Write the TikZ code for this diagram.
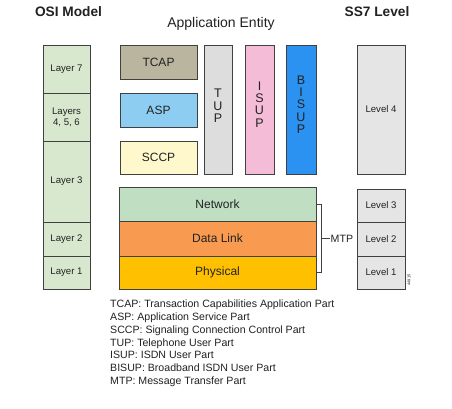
\documentclass[tikz,border=0pt]{standalone}
\usepackage{fontspec}
\setmainfont{Liberation Sans}
\definecolor{osig}{HTML}{D8E8CF}
\definecolor{tcapc}{HTML}{BAB59F}
\definecolor{aspc}{HTML}{8ECDF2}
\definecolor{sccpc}{HTML}{FFF8CC}
\definecolor{tupc}{HTML}{DDDDDD}
\definecolor{isupc}{HTML}{F5BCD8}
\definecolor{bisupc}{HTML}{2B92F2}
\definecolor{netc}{HTML}{C0DFC2}
\definecolor{dlc}{HTML}{F89A4F}
\definecolor{phyc}{HTML}{FFC000}
\definecolor{lvlc}{HTML}{E5E5E5}
\definecolor{edge}{HTML}{404040}
\definecolor{txt}{HTML}{222222}
\begin{document}
\begin{tikzpicture}[x=1pt,y=-1pt,
  blk/.style={draw=edge,line width=0.9pt,inner sep=0pt,text=txt,align=center},
  small/.style={font=\fontsize{9.6}{11}\selectfont},
  mid/.style={font=\fontsize{12}{13}\selectfont},
  vert/.style={font=\fontsize{12.5}{12.3}\selectfont},
  title/.style={font=\fontsize{13.7}{15}\selectfont\bfseries,text=txt,inner sep=0pt},
  wire/.style={draw=edge,line width=0.8pt}]
\useasboundingbox[fill=white] (0,0) rectangle (452,409);
% titles
\node[title] (tosi) at (68.5,12) {OSI Model};
\node[title] (tss7) at (377,12) {SS7 Level};
\node[font=\fontsize{14}{15}\selectfont,text=txt,inner sep=0pt] (tapp) at (221,24) {Application Entity};
% OSI column
\node[blk,small,fill=osig,minimum width=47pt,minimum height=48pt] (l7) at (66.5,69) {Layer 7};
\node[blk,small,fill=osig,minimum width=47pt,minimum height=48pt] (l456) at (66.5,117) {Layers\\4, 5, 6};
\node[blk,small,fill=osig,minimum width=47pt,minimum height=81pt] (l3) at (66.5,181.5) {Layer 3};
\node[blk,small,fill=osig,minimum width=47pt,minimum height=34pt] (l2) at (66.5,239) {Layer 2};
\node[blk,small,fill=osig,minimum width=47pt,minimum height=33pt] (l1) at (66.5,272.5) {Layer 1};
% application parts
\node[blk,mid,fill=tcapc,minimum width=77pt,minimum height=34pt] (tcap) at (158.5,62) {TCAP};
\node[blk,mid,fill=aspc,minimum width=77pt,minimum height=34pt] (asp) at (158.5,110) {ASP};
\node[blk,mid,fill=sccpc,minimum width=77pt,minimum height=33pt] (sccp) at (158.5,157.5) {SCCP};
\node[blk,fill=tupc,minimum width=28pt,minimum height=129pt] (tup) at (218,109.5) {};
\node[vert,text=txt,align=center,inner sep=0pt] (tupt) at (218,106) {T\\U\\P};
\node[blk,fill=isupc,minimum width=29pt,minimum height=129pt] (isup) at (259.5,109.5) {};
\node[vert,text=txt,align=center,inner sep=0pt] (isupt) at (259.5,104.5) {I\\S\\U\\P};
\node[blk,fill=bisupc,minimum width=30pt,minimum height=129pt] (bisup) at (301,109.5) {};
\node[vert,text=txt,align=center,inner sep=0pt] (bisupt) at (301,104.5) {B\\I\\S\\U\\P};
% MTP layers
\node[blk,mid,fill=netc,minimum width=197pt,minimum height=34pt] (net) at (217.5,204) {Network};
\node[blk,mid,fill=dlc,minimum width=197pt,minimum height=35pt] (dl) at (217.5,238.5) {Data Link};
\node[blk,mid,fill=phyc,minimum width=197pt,minimum height=33pt] (phy) at (217.5,272.5) {Physical};
% SS7 levels
\node[blk,small,fill=lvlc,minimum width=48pt,minimum height=129pt] (lv4) at (381,109.5) {Level 4};
\node[blk,small,fill=lvlc,minimum width=48pt,minimum height=33pt] (lv3) at (381,205.5) {Level 3};
\node[blk,small,fill=lvlc,minimum width=48pt,minimum height=34pt] (lv2) at (381,239) {Level 2};
\node[blk,small,fill=lvlc,minimum width=48pt,minimum height=33pt] (lv1) at (381,272.5) {Level 1};
% MTP bracket
\node[font=\fontsize{10.6}{12}\selectfont,text=txt,anchor=west,inner sep=0.5pt] (mtp) at (330,238.5) {MTP};
\draw[wire] (net.east) -- ++(5,0) |- (phy.east);
\coordinate (brm) at ([xshift=5pt]dl.east);
\draw[wire] (brm) -- (mtp.west);
% figure number
\node[font=\fontsize{4}{4}\selectfont,text=txt,rotate=90,inner sep=0pt] (fig) at (409,280) {44915};
% legend
\node[font=\fontsize{10.6}{12.9}\selectfont,text=txt,align=left,anchor=north west,inner sep=0pt] (legend) at (110,299.5)
{TCAP: Transaction Capabilities Application Part\\
ASP: Application Service Part\\
SCCP: Signaling Connection Control Part\\
TUP: Telephone User Part\\
ISUP: ISDN User Part\\
BISUP: Broadband ISDN User Part\\
MTP: Message Transfer Part};
\end{tikzpicture}
\end{document}
